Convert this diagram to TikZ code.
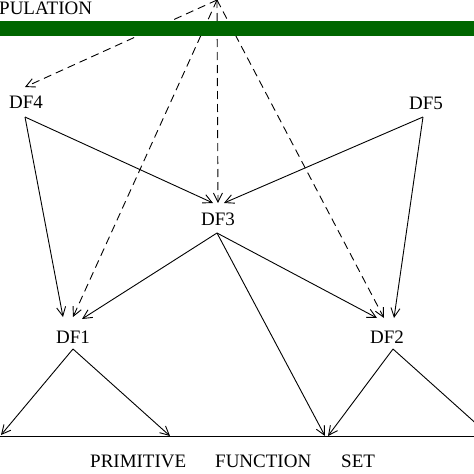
\documentclass[tikz,border=0pt]{standalone}
\usepackage{fontspec}
\setmainfont{Liberation Serif}
\usetikzlibrary{arrows.meta}
\begin{document}
\begin{tikzpicture}[x=1pt,y=-1pt,
  lbl/.style={anchor=base,inner sep=0pt,font=\fontsize{19}{23}\selectfont},
  conn/.style={line width=0.9pt,-{Straight Barb[length=9pt,width=9pt,line width=0.9pt]}},
  dconn/.style={conn,dash pattern=on 8pt off 5pt},
  plain/.style={line width=0.9pt}]
\useasboundingbox (0,0) rectangle (474,474);
% labels
\node[lbl,anchor=base west] (pop) at (-1,14) {PULATION};
\node[lbl] (df4) at (26,108) {DF4};
\node[lbl] (df5) at (426,109) {DF5};
\node[lbl] (df3) at (218,225) {DF3};
\node[lbl] (df1) at (73,343) {DF1};
\node[lbl] (df2) at (387,343) {DF2};
\node[lbl,anchor=base west] (prim) at (90,467) {PRIMITIVE};
\node[lbl,anchor=base west] (func) at (215,467) {FUNCTION};
\node[lbl,anchor=base west] (set) at (341,467) {SET};
% connection points
\coordinate (apex) at (217,0);
\coordinate (df4in) at (25,87);
\coordinate (df4s) at (25,117);
\coordinate (df5s) at (423,117);
\coordinate (df3a) at (213,203);
\coordinate (df3b) at (218,203);
\coordinate (df3c) at (224,203);
\coordinate (df3s) at (217,233);
\coordinate (df1a) at (63,317);
\coordinate (df1b) at (73,317);
\coordinate (df1c) at (82,319);
\coordinate (df1s) at (73,349);
\coordinate (df2a) at (377,318);
\coordinate (df2b) at (384,318);
\coordinate (df2c) at (394,318);
\coordinate (df2s) at (393,349);
\coordinate (bl) at (0,436);
\coordinate (br) at (474,436);
\coordinate (b1) at (1,435);
\coordinate (b2) at (170,436);
\coordinate (b3) at (325,436);
\coordinate (b4) at (328,436);
\coordinate (b5) at (490,436);
% dashed arrows from the population
\draw[dconn] (apex) -- (df4in);
\draw[dconn] (apex) -- (df1b);
\draw[dconn] (apex) -- (df3b);
\draw[dconn] (apex) -- (df2b);
% green bar
\fill[green!40!black] (0,21) rectangle (474,36);
% solid arrows
\draw[conn] (df4s) -- (df1a);
\draw[conn] (df4s) -- (df3a);
\draw[conn] (df5s) -- (df3c);
\draw[conn] (df5s) -- (df2c);
\draw[conn] (df3s) -- (df1c);
\draw[conn] (df3s) -- (df2a);
\draw[conn] (df3s) -- (b3);
\draw[conn] (df1s) -- (b1);
\draw[conn] (df1s) -- (b2);
\draw[conn] (df2s) -- (b4);
\draw[conn] (df2s) -- (b5);
% base line
\draw[plain] (bl) -- (br);
\end{tikzpicture}
\end{document}
